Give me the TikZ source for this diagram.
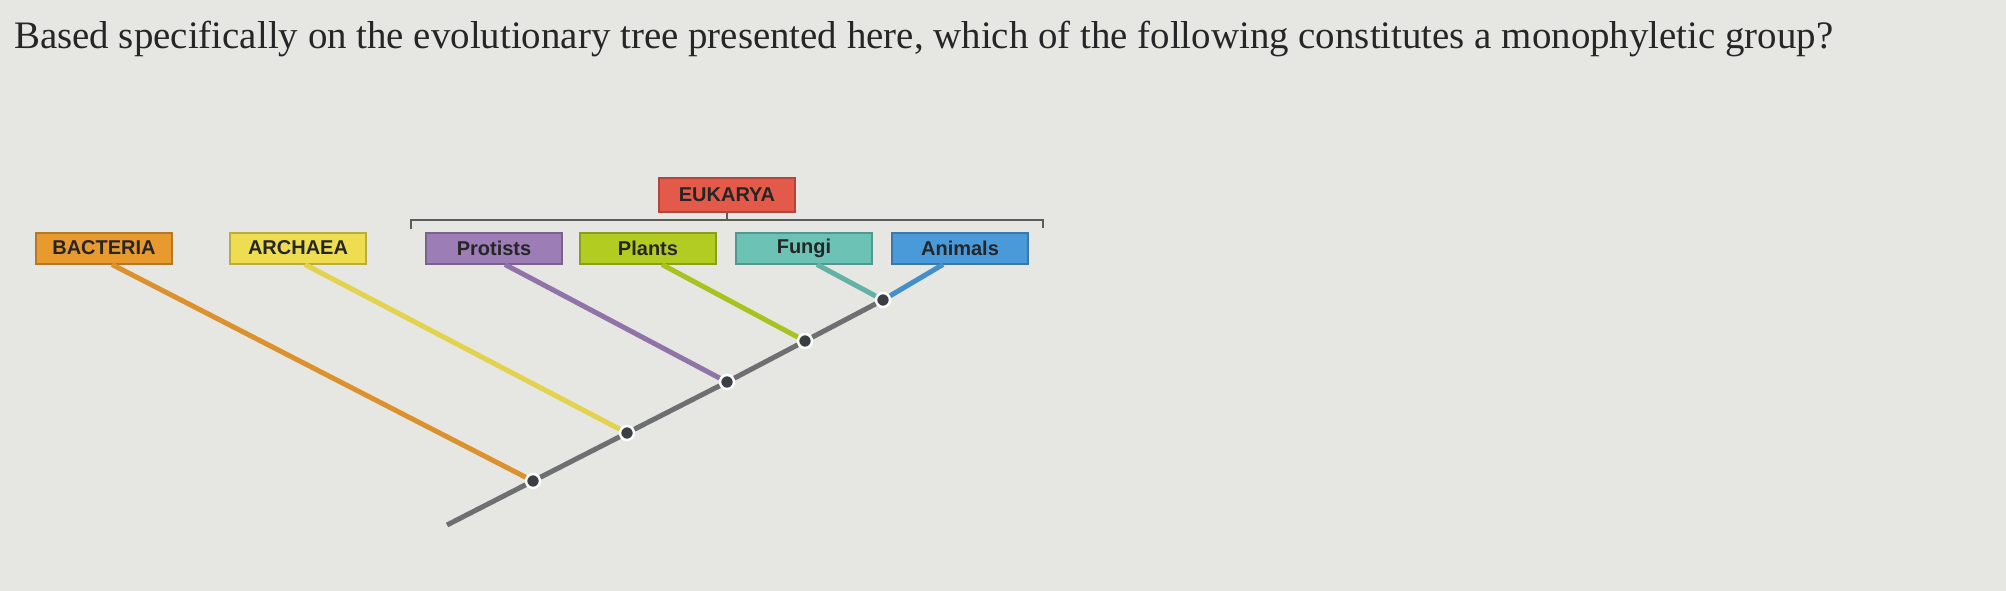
\documentclass[tikz,border=0pt]{standalone}
\usepackage{fontspec}
\setmainfont{Liberation Serif}
\newfontfamily\lblfont{Liberation Sans}
\definecolor{bg}{HTML}{E6E6E2}
\definecolor{txt}{HTML}{262626}
\definecolor{cbac}{HTML}{E89A2E}
\definecolor{carc}{HTML}{EEDD50}
\definecolor{cpro}{HTML}{9C7DB6}
\definecolor{cpla}{HTML}{B2CC22}
\definecolor{cfun}{HTML}{6CC2B4}
\definecolor{cani}{HTML}{4A9ADA}
\definecolor{ceuk}{HTML}{E45A4A}
\definecolor{trunk}{HTML}{6E6F70}
\definecolor{dotc}{HTML}{3A3F46}
\definecolor{brk}{HTML}{5C5C5C}
\begin{document}
\begin{tikzpicture}[x=1pt,y=-1pt,
  lbl/.style={draw=#1!78!black, fill=#1, line width=2pt, minimum width=136pt,
    minimum height=31pt, inner sep=0pt, text=txt,
    font=\lblfont\bfseries\fontsize{20}{20}\selectfont},
  branch/.style={draw=#1, line width=5pt},
  split/.style={circle, fill=dotc, draw=white!92!bg, line width=2.5pt,
    minimum size=14pt, inner sep=0pt},
  trunkline/.style={draw=trunk, line width=5pt}]
\fill[bg] (0,0) rectangle (2006,591);
\useasboundingbox (0,0) rectangle (2006,591);
\node[anchor=base west, text=txt, font=\fontsize{38.9}{44}\selectfont, inner sep=0pt] (title) at (14,49)
  {Based specifically on the evolutionary tree presented here, which of the following constitutes a monophyletic group?};
% labels
\node[lbl=cbac] (bac) at (104,248) {BACTERIA};
\node[lbl=carc] (arc) at (298,248) {ARCHAEA};
\node[lbl=cpro] (pro) at (494,248) {Protists};
\node[lbl=cpla] (pla) at (648,248) {Plants};
\node[lbl=cfun] (fun) at (804,248) {Fungi};
\node[lbl=cani] (ani) at (960,248) {Animals};
\node[lbl=ceuk, minimum height=33pt] (euk) at (727,195) {EUKARYA};
% bracket
\coordinate (bl) at (411,229);
\coordinate (br) at (1043,228);
\draw[brk, line width=2.5pt] (bl) -- (411,220) -- (1043,220) -- (br);
\draw[brk, line width=2.5pt] (euk.south) -- (727,220);
% split points
\coordinate (root) at (447,525);
\node[split] (n1) at (533,481) {};
\node[split] (n2) at (627,433) {};
\node[split] (n3) at (727,382) {};
\node[split] (n4) at (805,341) {};
\node[split] (n5) at (883,300) {};
% trunk
\draw[trunkline] (root) -- (n1);
\draw[trunkline] (n1) -- (n2);
\draw[trunkline] (n2) -- (n3);
\draw[trunkline] (n3) -- (n4);
\draw[trunkline] (n4) -- (n5);
% branches
\draw[branch=cbac!95!black] ([xshift=8pt]bac.south) -- (n1);
\draw[branch=carc!95!black] ([xshift=7pt]arc.south) -- (n2);
\draw[branch=cpro!92!black] ([xshift=11pt]pro.south) -- (n3);
\draw[branch=cpla!95!black] ([xshift=14pt]pla.south) -- (n4);
\draw[branch=cfun!92!black] ([xshift=13pt]fun.south) -- (n5);
\draw[branch=cani!92!black] ([xshift=-17pt]ani.south) -- (n5);
\end{tikzpicture}
\end{document}
